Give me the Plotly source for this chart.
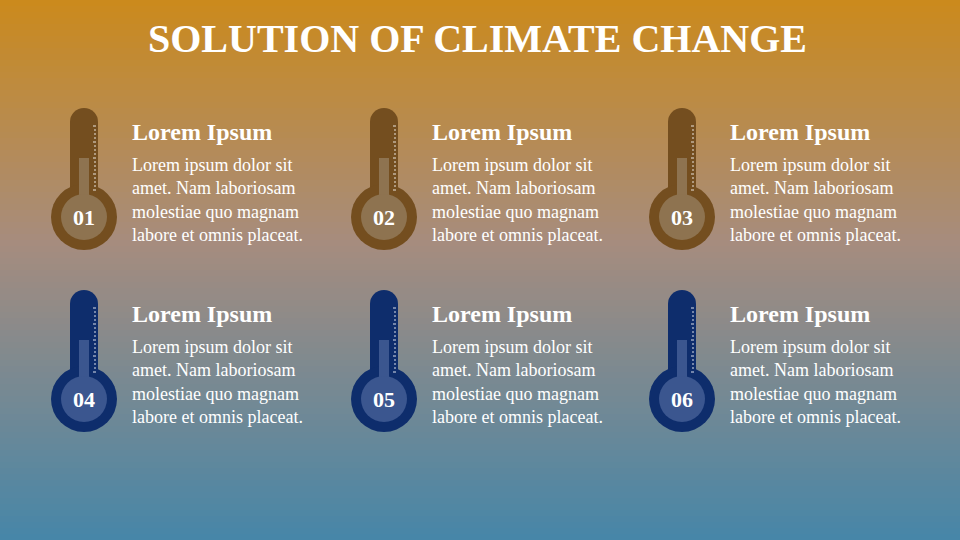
import plotly.graph_objects as go

numbers = ["01", "02", "03", "04", "05", "06"]
headings = ["Lorem Ipsum"] * 6
body = ["Lorem ipsum dolor sit<br>amet. Nam laboriosam<br>molestiae quo magnam<br>labore et omnis placeat."] * 6
title = "SOLUTION OF CLIMATE CHANGE"

FONT = "Liberation Serif"
outer = ["#744e1f"] * 3 + ["#0e2d6c"] * 3
inner = ["#8e7350"] * 3 + ["#3b568f"] * 3
col_x = [84, 384, 682]
row_dy = [0, 182]

fig = go.Figure()
shapes = []

# background gradient stripes
stops = [(0, (203, 138, 28)), (0.45, (166, 140, 126)), (1, (70, 134, 168))]
def grad(t):
    for (t0, c0), (t1, c1) in zip(stops, stops[1:]):
        if t <= t1:
            f = (t - t0) / (t1 - t0)
            return "rgb(%d,%d,%d)" % tuple(round(a + (b - a) * f) for a, b in zip(c0, c1))
n = 90
for i in range(n):
    y0 = 540 * i / n
    shapes.append(dict(type="rect", x0=0, x1=960, y0=y0, y1=y0 + 540 / n + 1,
                       fillcolor=grad((i + 0.5) / n), line_width=0, layer="below"))

annotations = [dict(x=477, y=38, text="<b>%s</b>" % title, showarrow=False,
                    font=dict(family=FONT, size=40, color="white"))]

for k in range(6):
    cx = col_x[k % 3]
    dy = row_dy[k // 3]
    oc, ic = outer[k], inner[k]
    shapes += [
        dict(type="circle", x0=cx - 14, x1=cx + 14, y0=108 + dy, y1=136 + dy, fillcolor=oc, line_width=0),
        dict(type="rect", x0=cx - 14, x1=cx + 14, y0=122 + dy, y1=200 + dy, fillcolor=oc, line_width=0),
        dict(type="circle", x0=cx - 33, x1=cx + 33, y0=184 + dy, y1=250 + dy, fillcolor=oc, line_width=0),
        dict(type="rect", x0=cx - 5, x1=cx + 5, y0=158 + dy, y1=200 + dy, fillcolor=ic, line_width=0),
        dict(type="circle", x0=cx - 23, x1=cx + 23, y0=194 + dy, y1=240 + dy, fillcolor=ic, line_width=0),
    ]
    for j in range(17):
        yy = 126 + dy + j * 4
        shapes.append(dict(type="line", x0=cx + 9 + (0 if j % 4 == 0 else 1), x1=cx + 12, y0=yy, y1=yy,
                           line=dict(color="rgba(255,255,255,0.85)", width=1)))
    annotations.append(dict(x=cx, y=217 + dy, text="<b>%s</b>" % numbers[k], showarrow=False,
                            font=dict(family=FONT, size=22, color="white")))
    annotations.append(dict(x=cx + 46, y=132 + dy, text="<b>%s</b>" % headings[k], showarrow=False,
                            xanchor="left", font=dict(family=FONT, size=24, color="white")))
    annotations.append(dict(x=cx + 46, y=153 + dy, text=body[k], showarrow=False, xanchor="left",
                            yanchor="top", align="left", font=dict(family=FONT, size=18, color="white")))

fig.update_layout(
    width=960, height=540, margin=dict(l=0, r=0, t=0, b=0),
    xaxis=dict(range=[0, 960], visible=False, fixedrange=True),
    yaxis=dict(range=[540, 0], visible=False, fixedrange=True),
    shapes=shapes, annotations=annotations, showlegend=False,
    paper_bgcolor="white", plot_bgcolor="white",
)
fig.write_html("out.html", config=dict(displayModeBar=False),
               post_script="document.body.style.margin='0';document.body.style.overflow='hidden';")
